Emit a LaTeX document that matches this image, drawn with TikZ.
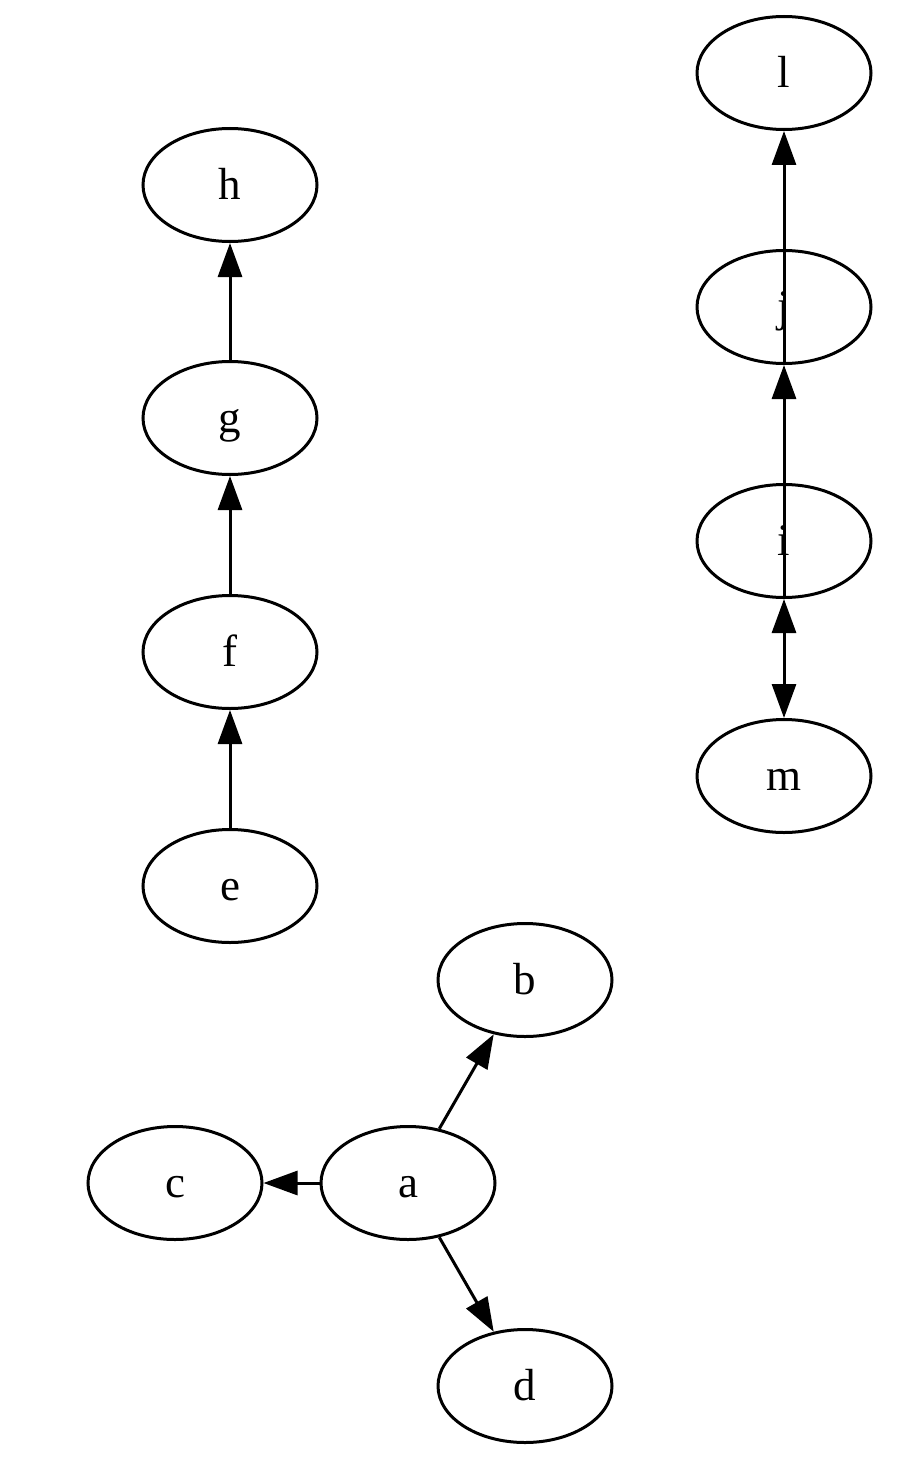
\documentclass[tikz,border=0pt]{standalone}
\usepackage{fontspec}
\setmainfont{Liberation Serif}
\usetikzlibrary{shapes.geometric,arrows.meta}
\begin{document}
\begin{tikzpicture}[x=1pt,y=-1pt,
  gnode/.style={draw, ellipse, line width=3pt, minimum width=174pt, minimum height=113pt,
    inner sep=0pt, font=\fontsize{45}{54}\selectfont, text height=31pt, text depth=2pt},
  gedge/.style={line width=3pt, -{Triangle[length=34pt,width=24pt]}},
  gbi/.style={line width=3pt, {Triangle[length=34pt,width=24pt]}-{Triangle[length=34pt,width=24pt]}}]
\useasboundingbox (0,0) rectangle (908,1458);
\node[gnode] (l) at (784,73) {l};
\node[gnode] (j) at (784,307) {j};
\node[gnode] (i) at (784,541) {i};
\node[gnode] (m) at (784,776) {m};
\node[gnode] (h) at (230,185) {h};
\node[gnode] (g) at (230,418) {g};
\node[gnode] (f) at (230,652) {f};
\node[gnode] (e) at (230,886) {e};
\node[gnode] (b) at (525,980) {b};
\node[gnode] (a) at (408,1183) {a};
\node[gnode] (c) at (175,1183) {c};
\node[gnode] (d) at (525,1386) {d};
\draw[gedge] (e.north) -- (f.south);
\draw[gedge] (f.north) -- (g.south);
\draw[gedge] (g.north) -- (h.south);
\draw[gedge] (j.south) -- (l.south);
\draw[gedge] (i.south) -- (j.south);
\draw[gbi] (i.south) -- (m.north);
\draw[gedge] (a) -- (b);
\draw[gedge] (a) -- (c);
\draw[gedge] (a) -- (d);
\end{tikzpicture}
\end{document}
